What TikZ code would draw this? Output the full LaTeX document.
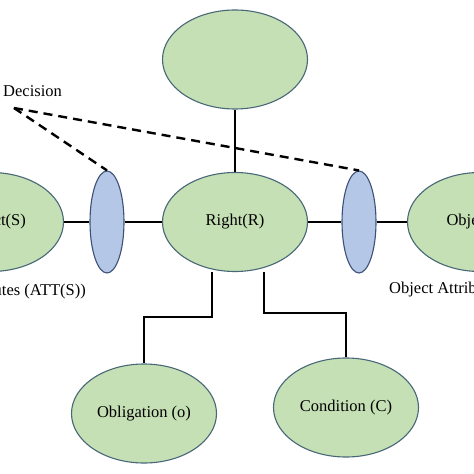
\documentclass[tikz,border=0pt]{standalone}
\usepackage{fontspec}
\setmainfont{Liberation Serif}
\usetikzlibrary{shapes.geometric}
\definecolor{gfill}{RGB}{197,224,180}
\definecolor{gline}{RGB}{72,104,120}
\definecolor{bfill}{RGB}{180,199,231}
\definecolor{bline}{RGB}{60,80,120}
\begin{document}
\begin{tikzpicture}[x=1bp,y=-1bp,
  gell/.style={ellipse, draw=gline, fill=gfill, line width=1.1bp, minimum width=145bp, minimum height=99bp, inner sep=0pt, font=\fontsize{16.5bp}{18bp}\selectfont},
  bell/.style={ellipse, draw=bline, fill=bfill, line width=1.1bp, minimum width=34bp, minimum height=102bp, inner sep=0pt},
  conn/.style={line width=2bp, black},
  dconn/.style={line width=2.4bp, black, dash pattern=on 9bp off 6bp},
  lbl/.style={font=\fontsize{16.5bp}{18bp}\selectfont, inner sep=0pt}]
\useasboundingbox (0,0) rectangle (474,474);
\clip (0,0) rectangle (474,474);
\fill[white] (0,0) rectangle (474,474);
\node[gell] (top) at (235,59.5) {};
\node[gell] (subj) at (-9,222) {Subject(S)};
\node[gell] (right) at (235,222) {Right(R)};
\node[gell] (obj) at (480,222) {Object(O)};
\node[gell] (obl) at (144,413.5) {Obligation (o)};
\node[gell] (cond) at (346,407.5) {Condition (C)};
\node[bell] (bl) at (107,222) {};
\node[bell] (br) at (359,222) {};
\node[lbl, anchor=west] (decision) at (3,91) {Decision};
\node[lbl, anchor=east] (satt) at (86,292) {Subject Attributes (ATT(S))};
\node[lbl, anchor=west] (oatt) at (389,290) {Object Attributes (ATT(O))};
\coordinate (dec) at (14,108);
\draw[conn] (top.south) -- (right.north);
\draw[conn] (subj.east) -- (bl.west);
\draw[conn] (bl.east) -- (right.west);
\draw[conn] (right.east) -- (br.west);
\draw[conn] (br.east) -- (obj.west);
\draw[conn] (right.south -| 212,0) |- (144,316.5) -- (obl.north);
\draw[conn] (right.south -| 264,0) |- (346,313) -- (cond.north);
\draw[dconn] (dec) -- (bl.north);
\draw[dconn] (dec) -- (br.north);
\end{tikzpicture}
\end{document}
